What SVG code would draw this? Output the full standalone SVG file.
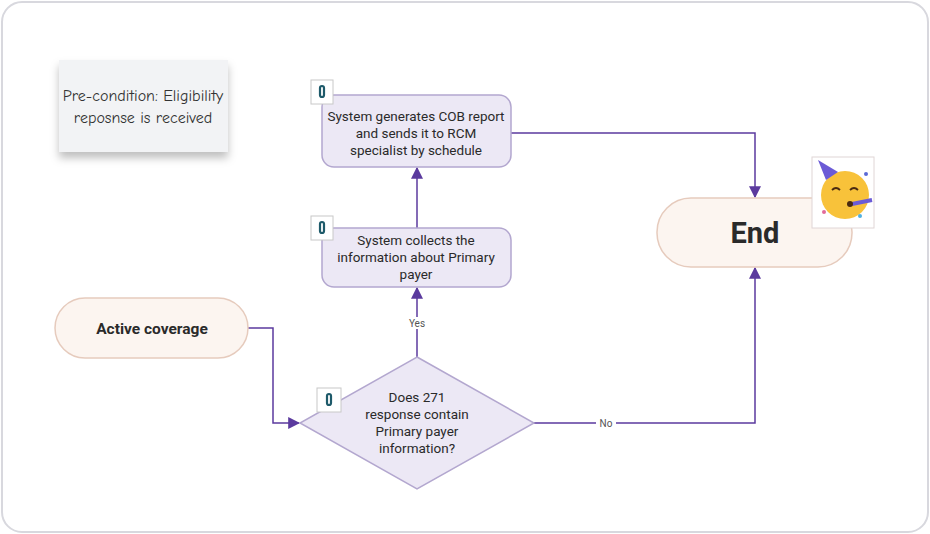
<svg xmlns="http://www.w3.org/2000/svg" width="930" height="534" viewBox="0 0 930 534">
<defs>
<style>
.proc{fill:#ece8f5;stroke:#b3a7cf;stroke-width:1.5}
.term{fill:#fcf5f0;stroke:#e6cbbd;stroke-width:1.5}
.t{font-family:Roboto,"Liberation Sans",sans-serif;font-size:13.5px;fill:#2a2a2a;text-anchor:middle}
.big{font-family:Roboto,"Liberation Sans",sans-serif;font-weight:bold;fill:#2a2a2a;text-anchor:middle}
.edge{fill:none;stroke:#5b3a9e;stroke-width:1.5}
.lbl{font-family:Roboto,"Liberation Sans",sans-serif;font-size:10px;fill:#555;text-anchor:middle}
.ic{fill:#fff;stroke:#c8c8c8;stroke-width:1}
.icg{fill:none;stroke:#1e5a6a;stroke-width:2.2}
.nt{font-family:'Comic Neue','Liberation Sans',sans-serif;font-size:16px;fill:#333;text-anchor:middle}
</style>
<marker id="ah" viewBox="0 0 10 10" refX="9" refY="5" markerWidth="8" markerHeight="8" orient="auto-start-reverse"><path d="M0,0 L10,5 L0,10 z" fill="#5b3a9e"/></marker>
<filter id="sh" x="-20%" y="-20%" width="140%" height="160%"><feDropShadow dx="0" dy="6" stdDeviation="4" flood-color="#000" flood-opacity="0.25"/></filter>
</defs>
<rect x="2" y="2" width="926" height="530" rx="20" fill="#fff" stroke="#d8d8de" stroke-width="2"/>

<g id="note">
<rect x="59" y="60" width="169" height="92" fill="#f2f3f5" filter="url(#sh)"/>
<text class="nt" x="143" y="101">Pre-condition: Eligibility</text>
<text class="nt" x="143" y="123">reposnse is received</text>
</g>

<g id="connectors">
<path class="edge" d="M248,328 H273 V423 H299" marker-end="url(#ah)"/>
<path class="edge" d="M417,357 V288" marker-end="url(#ah)"/>
<path class="edge" d="M417,228 V168" marker-end="url(#ah)"/>
<path class="edge" d="M511,133 H755 V197" marker-end="url(#ah)"/>
<path class="edge" d="M534,423 H755 V268" marker-end="url(#ah)"/>
<rect x="407" y="317" width="20" height="12" fill="#fff"/>
<text class="lbl" x="417" y="327">Yes</text>
<rect x="596" y="417" width="20" height="12" fill="#fff"/>
<text class="lbl" x="606" y="427">No</text>
</g>

<g id="cob">
<rect class="proc" x="322" y="95" width="189" height="72" rx="12"/>
<text class="t" x="416" y="121">System generates COB report</text>
<text class="t" x="416" y="138">and sends it to RCM</text>
<text class="t" x="416" y="155">specialist by schedule</text>
<rect class="ic" x="311" y="80" width="22" height="24"/>
<rect class="icg" x="320" y="86" width="4" height="11" rx="2"/>
</g>

<g id="collect">
<rect class="proc" x="322" y="228" width="189" height="59" rx="12"/>
<text class="t" x="416" y="245">System collects the</text>
<text class="t" x="416" y="262">information about Primary</text>
<text class="t" x="416" y="279">payer</text>
<rect class="ic" x="311" y="216" width="22" height="24"/>
<rect class="icg" x="320" y="222" width="4" height="11" rx="2"/>
</g>

<g id="active">
<rect class="term" x="55" y="298" width="193" height="60" rx="30"/>
<text class="big" x="152" y="334" font-size="15.5">Active coverage</text>
</g>

<g id="decision">
<polygon class="proc" points="417,357 534,423 417,489 300,423"/>
<text class="t" x="417" y="402">Does 271</text>
<text class="t" x="417" y="419">response contain</text>
<text class="t" x="417" y="436">Primary payer</text>
<text class="t" x="417" y="453">information?</text>
<rect class="ic" x="317" y="388" width="24" height="24"/>
<rect class="icg" x="327" y="394" width="4" height="11" rx="2"/>
</g>

<g id="end">
<rect class="term" x="657" y="198" width="195" height="69" rx="34"/>
<text class="big" x="755" y="243" font-size="29">End</text>
<rect x="812" y="157" width="62" height="71" fill="#fff" stroke="#e0d6d6"/>
<circle cx="845" cy="195" r="24" fill="#f8c23a"/>
<path d="M826,180 L818,160 L838,172 z" fill="#6b5bd6"/>
<path d="M832,190 q4,-4 8,0 M850,190 q4,-4 8,0" fill="none" stroke="#4a2a10" stroke-width="1.8"/>
<path d="M852,204 L872,200" stroke="#6b5bd6" stroke-width="4"/>
<circle cx="850" cy="204" r="3" fill="#4a2a10"/>
<circle cx="824" cy="212" r="2" fill="#e26b9a"/>
<circle cx="866" cy="174" r="2" fill="#5b6ad6"/>
<circle cx="860" cy="216" r="2" fill="#4fb0e0"/>
</g>
</svg>
